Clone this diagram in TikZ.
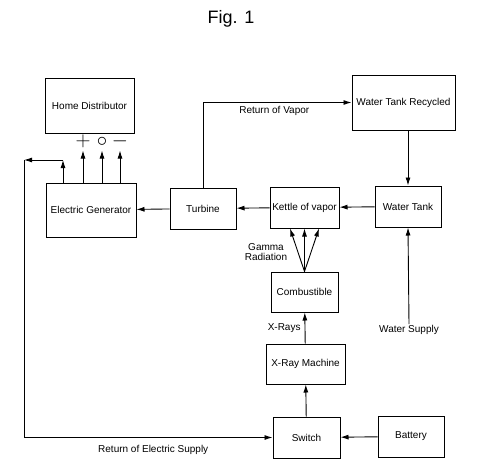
\documentclass[tikz,border=0pt]{standalone}
\usepackage{fontspec}
\setmainfont{Liberation Sans}
\usetikzlibrary{arrows.meta}
\usetikzlibrary{calc}

\tikzset{
	block/.style={draw, line width=1pt, inner sep=0pt, align=center, font=\fontsize{10}{11}\selectfont},
	flow/.style={line width=0.9pt, -{Latex[length=8pt,width=5pt]}},
	lbl/.style={inner sep=1pt, align=center, font=\fontsize{10}{10.5}\selectfont}
}

\begin{document}
\begin{tikzpicture}[x=1pt,y=-1pt]
	\useasboundingbox (0,0) rectangle (484,460);
	\node[font=\fontsize{18}{20}\selectfont] (title) at (231,19) {Fig. 1};

	% Boxes
	\begin{scope}
		\node[block, minimum width=89pt, minimum height=55pt] (home) at (89.5,105.5) {Home Distributor};
		\node[block, minimum width=90pt, minimum height=54pt] (gen) at (91,210) {Electric Generator};
		\node[block, minimum width=66pt, minimum height=41pt] (turb) at (203,208.5) {Turbine};
		\node[block, minimum width=69pt, minimum height=41pt] (kettle) at (304.5,207.5) {Kettle of vapor};
		\node[block, minimum width=66pt, minimum height=41pt] (wtank) at (408,206.5) {Water Tank};
		\node[block, minimum width=103pt, minimum height=55pt] (wtrec) at (403.5,102.5) {Water Tank Recycled};
		\node[block, minimum width=67pt, minimum height=40pt] (comb) at (304.5,292) {Combustible};
		\node[block, minimum width=79pt, minimum height=40pt] (xray) at (305.5,364) {X-Ray Machine};
		\node[block, minimum width=67pt, minimum height=41pt] (switch) at (306.5,437.5) {Switch};
		\node[block, minimum width=66pt, minimum height=41pt] (battery) at (411,436.5) {Battery};
	\end{scope}

	% Vapor and water loop
	\draw[flow] (wtank) -- (kettle);
	\draw[flow] (kettle) -- (turb);
	\draw[flow] (turb) -- (gen);
	\draw[flow] (turb.north) |- (wtrec.west) node[lbl, pos=0.74, below=2pt] (vaptext) {Return of Vapor};
	\draw[flow] (wtank.north |- wtrec.south) -- (wtank.north);
	\node[lbl] (supply) at (409,330) {Water Supply};
	\draw[flow] (supply.north) -- (wtank.south);

	% Radiation chain
	\draw[flow] (switch) -- (xray);
	\draw[flow] (xray) -- (comb) node[lbl, midway, left=3pt] (xtext) {X-Rays};
	\draw[flow] (battery) -- (switch);
	\foreach \dx in {-14.5,0,14.5}
		\draw[flow] (comb.north) -- ($(kettle.south)+(\dx,0)$);
	\node[lbl] (gamma) at (266,252) {Gamma\\Radiation};

	% Generator outputs
	\foreach \dx/\sym in {-8/$+$, 11/$\circ$, 29/$-$} {
		\draw[flow] ($(gen.north)+(\dx,0)$) -- ($(gen.north)+(\dx,-32)$);
		\node[font=\fontsize{22}{22}\selectfont, inner sep=0pt] at ($(gen.north)+(\dx,-41)$) {\sym};
	}

	% Return of electric supply
	\coordinate (genout) at ($(gen.north)+(-28,0)$);
	\coordinate (corner) at (24,160);
	\draw[flow] (genout) -- (genout |- corner);
	\draw[flow] (genout |- corner) -- (corner);
	\draw[flow] (corner) |- (switch.west) node[lbl, pos=0.76, below=6pt] (etext) {Return of Electric Supply};
\end{tikzpicture}
\end{document}
